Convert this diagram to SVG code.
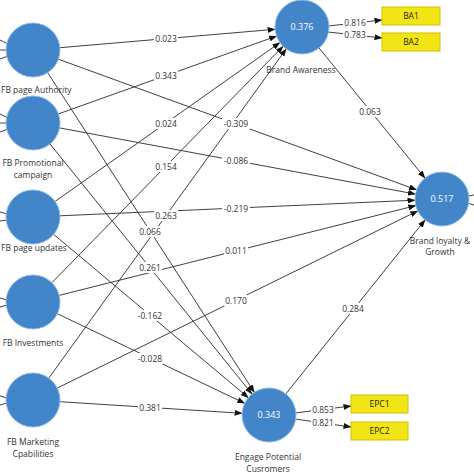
<svg xmlns="http://www.w3.org/2000/svg" width="474" height="474" viewBox="0 0 474 474">
<defs>
<marker id="ah" markerWidth="8" markerHeight="6" refX="7.5" refY="3" orient="auto" markerUnits="userSpaceOnUse">
<path d="M0,0 L8,3 L0,6 Z" fill="#111"/>
</marker>
<style>
.c{fill:#4285c8;stroke:#8dbbe6;stroke-width:1}
.box{fill:#f2e516;stroke:#cfc000;stroke-width:1}
.e{stroke:#2a2a2a;stroke-width:0.9;fill:none;marker-end:url(#ah)}
.s{stroke:#2a2a2a;stroke-width:0.9;fill:none}
.lb{fill:#fff}
text{font-family:"Open Sans","Noto Sans","Liberation Sans",sans-serif;font-size:8.5px;fill:#333;text-anchor:middle}
.v{fill:#fff;font-size:9px}
.bt{fill:#222;font-size:8.5px}
</style>
</defs>
<rect width="474" height="474" fill="#fff"/>
<g id="connectors">
<path class="s" d="M0,40 L8,44 M0,50 L6,50 M0,59 L8,56"/>
<path class="s" d="M0,114 L8,118 M0,123 L6,123 M0,132 L8,129"/>
<path class="s" d="M0,212 L7,214 M0,221 L7,220"/>
<path class="s" d="M0,298 L7,300 M0,307 L7,305"/>
<path class="s" d="M0,396 L7,398 M0,405 L7,403"/>
<path class="s" d="M468,196 L474,195 M467,203 L474,205"/>
<line class="e" x1="59.9" y1="47.7" x2="275.1" y2="29.3"/>
<line class="e" x1="58.4" y1="113.9" x2="276.6" y2="36.1"/>
<line class="e" x1="55.1" y1="201.4" x2="279.9" y2="42.6"/>
<line class="e" x1="51.9" y1="282.7" x2="283.1" y2="46.3"/>
<line class="e" x1="48.8" y1="378.1" x2="286.2" y2="48.9"/>
<line class="e" x1="58.4" y1="59.2" x2="416.6" y2="189.8"/>
<line class="e" x1="59.5" y1="127.9" x2="415.5" y2="194.1"/>
<line class="e" x1="60.0" y1="215.8" x2="415.0" y2="200.2"/>
<line class="e" x1="59.2" y1="295.4" x2="415.8" y2="205.6"/>
<line class="e" x1="57.2" y1="388.1" x2="417.8" y2="210.9"/>
<line class="e" x1="47.7" y1="72.7" x2="254.3" y2="392.3"/>
<line class="e" x1="50.0" y1="144.0" x2="252.0" y2="394.0"/>
<line class="e" x1="53.7" y1="234.4" x2="248.3" y2="397.6"/>
<line class="e" x1="57.3" y1="313.7" x2="244.7" y2="403.3"/>
<line class="e" x1="59.9" y1="401.7" x2="242.1" y2="413.3"/>
<line class="e" x1="319.0" y1="47.9" x2="425.0" y2="178.1"/>
<line class="e" x1="285.9" y1="393.9" x2="425.1" y2="219.9"/>
<line class="e" x1="328" y1="26" x2="382" y2="20"/>
<line class="e" x1="328" y1="32" x2="382" y2="38"/>
<line class="e" x1="295" y1="413" x2="351" y2="406"/>
<line class="e" x1="295" y1="419" x2="351" y2="427"/>
<rect class="lb" x="154" y="33" width="24" height="11"/>
<rect class="lb" x="154" y="70" width="24" height="11"/>
<rect class="lb" x="154" y="118" width="24" height="11"/>
<rect class="lb" x="154" y="161" width="24" height="11"/>
<rect class="lb" x="154" y="210" width="24" height="11"/>
<rect class="lb" x="222" y="118" width="28" height="11"/>
<rect class="lb" x="222" y="155" width="28" height="11"/>
<rect class="lb" x="222" y="203" width="28" height="11"/>
<rect class="lb" x="224" y="245" width="24" height="11"/>
<rect class="lb" x="224" y="295" width="24" height="11"/>
<rect class="lb" x="138" y="226" width="24" height="11"/>
<rect class="lb" x="138" y="262" width="24" height="11"/>
<rect class="lb" x="136" y="310" width="28" height="11"/>
<rect class="lb" x="136" y="353" width="28" height="11"/>
<rect class="lb" x="138" y="402" width="24" height="11"/>
<rect class="lb" x="358" y="106" width="24" height="11"/>
<rect class="lb" x="341" y="303" width="24" height="11"/>
<rect class="lb" x="343" y="17" width="24" height="11"/>
<rect class="lb" x="343" y="29" width="24" height="11"/>
<rect class="lb" x="311" y="404" width="24" height="11"/>
<rect class="lb" x="311" y="417" width="24" height="11"/>
<text x="166" y="41.5">0.023</text>
<text x="166" y="78.5">0.343</text>
<text x="166" y="126.5">0.024</text>
<text x="166" y="169.5">0.154</text>
<text x="166" y="218.5">0.263</text>
<text x="236" y="126.5">-0.309</text>
<text x="236" y="163.5">-0.086</text>
<text x="236" y="211.5">-0.219</text>
<text x="236" y="253.5">0.011</text>
<text x="236" y="303.5">0.170</text>
<text x="150" y="234.5">0.066</text>
<text x="150" y="270.5">0.261</text>
<text x="150" y="318.5">-0.162</text>
<text x="150" y="361.5">-0.028</text>
<text x="150" y="410.5">0.381</text>
<text x="370" y="114.5">0.063</text>
<text x="353" y="311.5">0.284</text>
<text x="355" y="25.5">0.816</text>
<text x="355" y="37.5">0.783</text>
<text x="323" y="412.5">0.853</text>
<text x="323" y="425.5">0.821</text>
</g>
<g id="fb-page-authority">
<circle class="c" cx="33" cy="50" r="27"/>
<text x="1" y="93" style="text-anchor:start">FB page Authority</text>
</g>
<g id="fb-promotional-campaign">
<circle class="c" cx="33" cy="123" r="27"/>
<text x="33" y="166">FB Promotional</text>
<text x="33" y="178">campaign</text>
</g>
<g id="fb-page-updates">
<circle class="c" cx="33" cy="217" r="27"/>
<text x="34" y="251">FB page updates</text>
</g>
<g id="fb-investments">
<circle class="c" cx="33" cy="302" r="27"/>
<text x="33" y="346">FB Investments</text>
</g>
<g id="fb-marketing-capabilities">
<circle class="c" cx="33" cy="400" r="27"/>
<text x="33" y="445">FB Marketing</text>
<text x="33" y="457">Cpabilities</text>
</g>
<g id="brand-awareness">
<circle class="c" cx="302" cy="27" r="27"/>
<text class="v" x="302" y="30">0.376</text>
<text x="301" y="73">Brand Awareness</text>
</g>
<g id="brand-loyalty-growth">
<circle class="c" cx="442" cy="199" r="27"/>
<text class="v" x="442" y="202">0.517</text>
<text x="440" y="244">Brand loyalty &amp;</text>
<text x="440" y="255">Growth</text>
</g>
<g id="engage-potential-customers">
<circle class="c" cx="269" cy="415" r="27"/>
<text class="v" x="269" y="418">0.343</text>
<text x="268" y="460">Engage Potential</text>
<text x="268" y="472">Cusromers</text>
</g>
<g id="ba1">
<rect class="box" x="382" y="7" width="58" height="18"/>
<text class="bt" x="411" y="19">BA1</text>
</g>
<g id="ba2">
<rect class="box" x="382" y="33" width="58" height="18"/>
<text class="bt" x="411" y="45">BA2</text>
</g>
<g id="epc1">
<rect class="box" x="351" y="395" width="57" height="18"/>
<text class="bt" x="379.5" y="407">EPC1</text>
</g>
<g id="epc2">
<rect class="box" x="351" y="422" width="57" height="18"/>
<text class="bt" x="379.5" y="434">EPC2</text>
</g>
</svg>
